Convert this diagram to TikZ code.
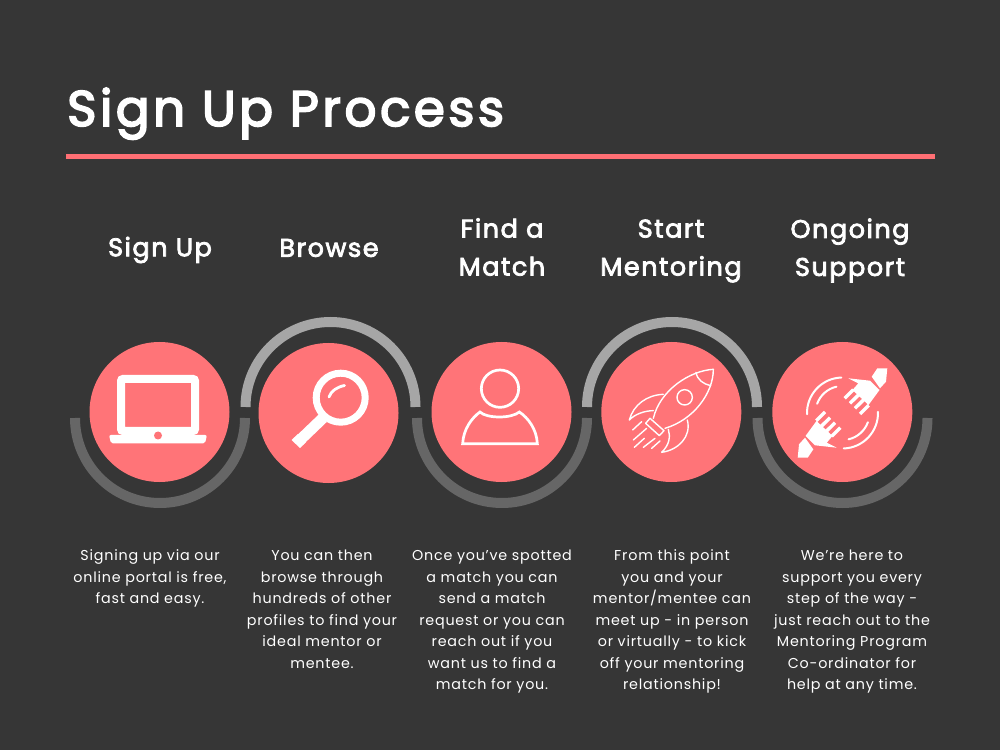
\documentclass[tikz,border=0pt]{standalone}
\usepackage{fontspec}
\setmainfont{Poppins}[LetterSpace=5.5]
\newfontfamily\headfont{Poppins}[LetterSpace=6,FakeBold=3]
\newfontfamily\titlefont{Poppins}[LetterSpace=7,FakeBold=3.5]
\definecolor{bgdark}{HTML}{363636}
\definecolor{salmon}{HTML}{FF7478}
\definecolor{rulered}{HTML}{FF6F74}
\definecolor{lowgrey}{HTML}{666666}
\definecolor{highgrey}{HTML}{A6A6A6}
\begin{document}
\begin{tikzpicture}[x=1pt, y=1pt,
	stepdisc/.style = {circle, fill=salmon, minimum size=140pt, inner sep=0pt},
	heading/.style = {text=white, align=center, font=\fontsize{25.5}{38}\selectfont\headfont},
	blurb/.style = {text=white, align=center, font=\fontsize{14.3}{21.5}\selectfont},
	lowarc/.style = {draw=lowgrey, line width=10pt},
	higharc/.style = {draw=highgrey, line width=10pt},
	icon/.style = {draw=white, line width=1.4pt, line join=round, line cap=round},
	plugline/.style = {draw=white, line width=2pt, line cap=round}]

	\fill[bgdark] (0,0) rectangle (1000,750);
	\useasboundingbox (0,0) rectangle (1000,750);

	% title and rule
	\node[anchor=base west, inner sep=0pt, text=white, font=\fontsize{50}{60}\selectfont\titlefont] (title) at (67,624) {Sign Up Process};
	\coordinate (ruleL) at (66,593);
	\coordinate (ruleR) at (935,593);
	\draw[rulered, line width=5pt] (ruleL) -- (ruleR);

	% headings
	\node[heading] (headA) at (160,500) {Sign Up};
	\node[heading] (headB) at (329,502) {Browse};
	\node[heading] (headC) at (502,503) {Find a\\Match};
	\node[heading] (headD) at (671,499) {Start\\Mentoring};
	\node[heading] (headE) at (850,499.5) {Ongoing\\Support};

	% half rings
	\draw[lowarc] (75,332) arc[start angle=180, end angle=360, radius=85];
	\draw[higharc] (245.5,343) arc[start angle=180, end angle=0, radius=85];
	\draw[lowarc] (417,332) arc[start angle=180, end angle=360, radius=85];
	\draw[higharc] (587,343) arc[start angle=180, end angle=0, radius=85];
	\draw[lowarc] (757.5,332) arc[start angle=180, end angle=360, radius=85];

	% discs
	\node[stepdisc] (discA) at (159.5,338) {};
	\node[stepdisc] (discB) at (328.5,337) {};
	\node[stepdisc] (discC) at (501.5,338) {};
	\node[stepdisc] (discD) at (671.3,338) {};
	\node[stepdisc] (discE) at (842.3,338) {};

	% laptop
	\draw[white, line width=8pt, rounded corners=2pt] (121,319) rectangle (195,371);
	\fill[white, rounded corners=2pt] (109,315) -- (207,315) -- (205,306.5) -- (111,306.5) -- cycle;
	\fill[salmon] (158,314.5) circle (4);

	% magnifier
	\draw[white, line width=7pt] (340.7,352.3) circle (24.5);
	\draw[white, line width=2.8pt, line cap=round] (329,353) .. controls (331,359) and (337,363) .. (344.5,364.5);
	\draw[white, line width=11pt] (323,332) -- (299,309);
	\fill[white] (291.5,310) -- (300,302) -- (306,308) -- (298,316) -- cycle;

	% person
	\begin{scope}[shift={(430,408)}, x=0.3333pt, y=-0.3333pt]
		\draw[icon, line width=2.7pt] (210,140) circle (56);
		\draw[icon, line width=2.7pt, line cap=butt, line join=miter] (98,305) .. controls (100,262) and (125,228) .. (150,210)
			.. controls (170,230) and (245,230) .. (268,210)
			.. controls (295,228) and (320,262) .. (322,305) -- cycle;
	\end{scope}

	% rocket
	\begin{scope}[shift={(600,410)}, x=0.3333pt, y=-0.3333pt]
		\draw[icon] (340,88) .. controls (270,92) and (180,150) .. (160,235);
		\draw[icon] (340,88) .. controls (340,160) and (280,240) .. (195,265);
		\draw[icon] (288,97) .. controls (292,120) and (310,132) .. (332,137);
		\draw[icon] (254,172) circle (23);
		\draw[icon] (150,235) -- (192,272) -- (178,287) -- (137,250) -- cycle;
		\draw[icon] (190,163) .. controls (140,165) and (100,195) .. (88,240) .. controls (105,222) and (135,212) .. (160,212);
		\draw[icon] (262,240) .. controls (275,290) and (235,330) .. (185,337) .. controls (208,315) and (212,290) .. (205,268);
		\draw[icon] (125,245) -- (98,270);
		\draw[icon] (140,265) -- (100,300);
		\draw[icon] (133,295) -- (103,322);
		\draw[icon] (165,295) -- (130,322);
		\draw[icon] (180,303) -- (155,325);
	\end{scope}

	% plugs
	\foreach \ang in {0,180} {
		\begin{scope}[shift={(842.5,337)}, rotate=\ang]
			\fill[white] (34.8,44.7) -- (44.8,44.7) -- (43.5,31.3) -- (37.5,24.7) -- (29.2,36.3) -- cycle;
			\fill[white] (5.8,34.7) -- (27.5,32.3) -- (37,23) -- (26,8) -- (10,23) -- (15.8,29.7) -- cycle;
			\draw[white, line width=3.4pt] (2.2,14.7) -- (10.8,23.3);
			\draw[white, line width=3.4pt] (7.5,9.7) -- (16.2,18.3);
			\draw[white, line width=3.4pt] (12.5,4.7) -- (21.2,13.3);
			\draw[white, line width=3.4pt] (17.5,-1) -- (26.2,7.7);
			\draw[plugline] (92:35.5) arc[start angle=92, end angle=182, radius=35.5];
			\draw[plugline] (103:27) arc[start angle=103, end angle=160, radius=27];
		\end{scope}
	}

	% blurbs
	\node[blurb, anchor=north] (textA) at (150,203.5) {Signing up via our\\online portal is free,\\fast and easy.};
	\node[blurb, anchor=north] (textB) at (322,203.5) {You can then\\browse through\\hundreds of other\\profiles to find your\\ideal mentor or\\mentee.};
	\node[blurb, anchor=north] (textC) at (492,203.5) {Once you've spotted\\a match you can\\send a match\\request or you can\\reach out if you\\want us to find a\\match for you.};
	\node[blurb, anchor=north] (textD) at (672,203.5) {From this point\\you and your\\mentor/mentee can\\meet up - in person\\or virtually - to kick\\off your mentoring\\relationship!};
	\node[blurb, anchor=north] (textE) at (852,203.5) {We're here to\\support you every\\step of the way -\\just reach out to the\\Mentoring Program\\Co-ordinator for\\help at any time.};
\end{tikzpicture}
\end{document}
